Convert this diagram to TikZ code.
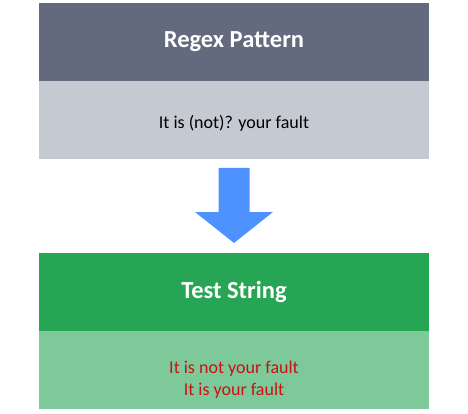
\documentclass[tikz,border=0pt]{standalone}
\usepackage{fontspec}
\setmainfont{Carlito}
\usetikzlibrary{positioning}

\definecolor{patterndark}{RGB}{99,106,126}
\definecolor{patternlight}{RGB}{197,201,210}
\definecolor{testdark}{RGB}{38,166,84}
\definecolor{testlight}{RGB}{126,201,153}
\definecolor{arrowblue}{RGB}{77,146,255}
\definecolor{faultred}{RGB}{200,18,18}

\begin{document}
\begin{tikzpicture}[
    headbox/.style = {minimum width=390pt, minimum height=78pt, inner sep=0pt, outer sep=0pt,
                      text=white, font=\fontsize{24.5}{28}\selectfont\bfseries},
    bodybox/.style = {minimum width=390pt, minimum height=78pt, inner sep=0pt, outer sep=0pt},
    bodytext/.style = {align=center, inner sep=0pt, font=\fontsize{18}{22}\selectfont}
  ]
      \useasboundingbox (0,0) rectangle (468pt,-414pt);
      % place boxes
      \node (pattern) [headbox, fill=patterndark] at (234pt,-42pt) {Regex Pattern};
      \node (patternbody) [bodybox, fill=patternlight, below=0pt of pattern] {};
      \node (patterntext) [bodytext] at ([yshift=-3pt]patternbody.center) {It is (not)? your fault};

      \node (test) [headbox, fill=testdark] at (234pt,-292pt) {Test String};
      \node (testbody) [bodybox, fill=testlight, below=0pt of test] {};
      \node (testtext) [bodytext, text=faultred] at ([yshift=-10pt]testbody.center) {It is not your fault\\It is your fault};

      % big arrow between the boxes
      \coordinate (arrowtop) at ([yshift=-9pt]patternbody.south);
      \fill [arrowblue] (arrowtop) ++(-15.5pt,0) -- ++(31pt,0) -- ++(0,-44pt) -- ++(23.5pt,0)
            -- ++(-39pt,-31pt) -- ++(-39pt,31pt) -- ++(23.5pt,0) -- cycle;
\end{tikzpicture}
\end{document}
